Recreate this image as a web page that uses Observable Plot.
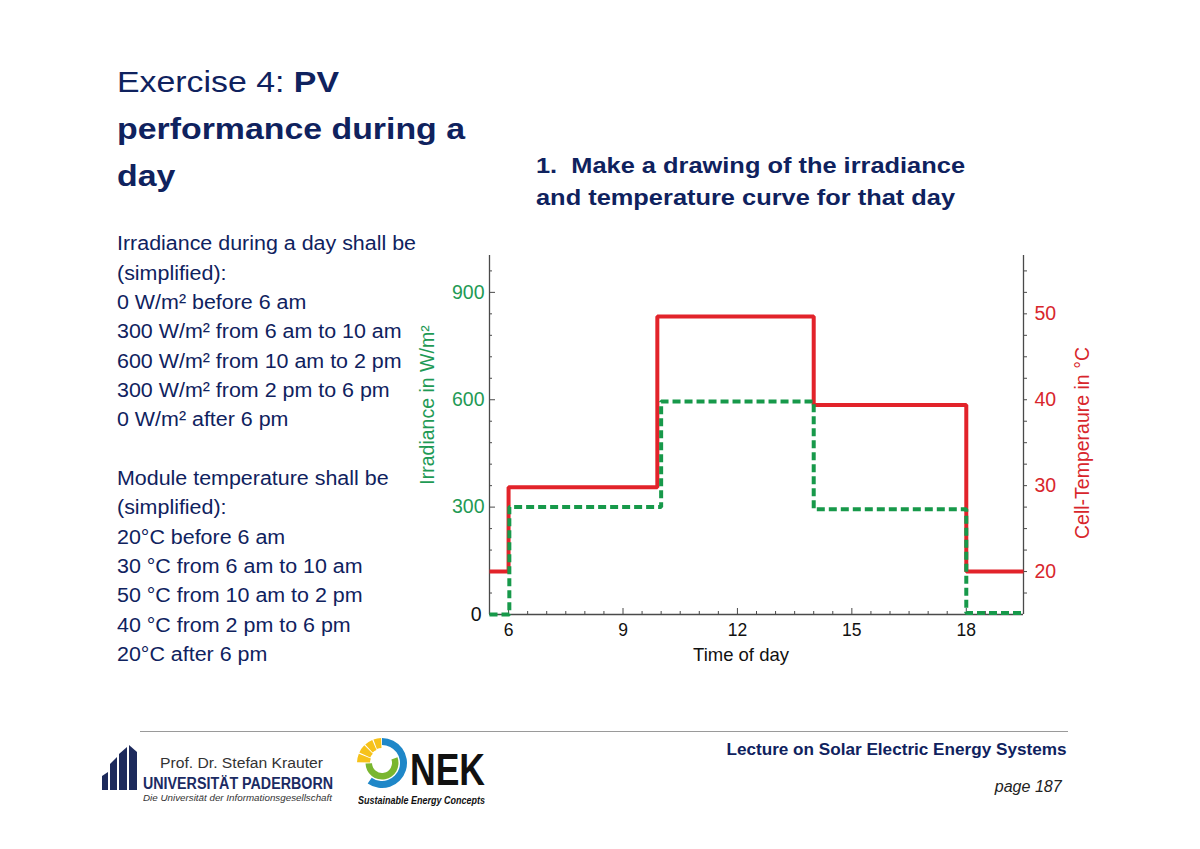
<!DOCTYPE html>
<html><head><meta charset="utf-8">
<script src="https://cdn.jsdelivr.net/npm/d3@7"></script>
<script src="https://cdn.jsdelivr.net/npm/@observablehq/plot@0.6"></script>
<style>
html,body{margin:0;padding:0;background:#fff;}
body{width:1200px;height:849px;position:relative;overflow:hidden;font-family:"Liberation Sans",Arial,Helvetica,sans-serif;}
.abs{position:absolute;white-space:nowrap;}
.navy{color:#0f225e;}
.rot{position:absolute;white-space:nowrap;transform:translate(-50%,-50%) rotate(-90deg);}
</style></head><body>

<div class="abs navy fit" data-w="348" style="left:117px;top:58.5px;font-size:29px;line-height:47px;">Exercise 4: <b>PV</b><br><b>performance during a</b><br><b>day</b></div>

<div class="abs navy fit" data-w="299" style="left:117px;top:229.3px;font-size:20px;line-height:29.35px;">Irradiance during a day shall be<br>(simplified):<br>0 W/m² before 6 am<br>300 W/m² from 6 am to 10 am<br>600 W/m² from 10 am to 2 pm<br>300 W/m² from 2 pm to 6 pm<br>0 W/m² after 6 pm<br>&nbsp;<br>Module temperature shall be<br>(simplified):<br>20°C before 6 am<br>30 °C from 6 am to 10 am<br>50 °C from 10 am to 2 pm<br>40 °C from 2 pm to 6 pm<br>20°C after 6 pm</div>

<div class="abs navy fit" data-w="429" style="left:536px;top:150px;font-size:21.5px;line-height:32px;font-weight:bold;">1.&nbsp;&nbsp;Make a drawing of the irradiance<br>and temperature curve for that day</div>

<div id="chart" style="position:absolute;left:400px;top:240px;"></div>

<div class="rot" style="left:427px;top:405px;font-size:19.5px;color:#1f9a55;">Irradiance in W/m²</div>
<div class="rot" style="left:1082px;top:443px;font-size:19.5px;color:#d8262c;">Cell-Temperaure in °C</div>
<div class="abs" style="left:741px;top:655px;transform:translate(-50%,-50%);font-size:18.5px;color:#111;">Time of day</div>

<div style="position:absolute;left:140px;top:731px;width:928px;height:1px;background:#9a9a9a;"></div>

<div class="abs navy fit" data-w="340" data-o="right center" style="right:134px;top:740px;font-size:16px;line-height:20px;font-weight:bold;">Lecture on Solar Electric Energy Systems</div>
<div class="abs fit" data-w="67" data-o="right center" style="right:138px;top:777px;font-size:16px;line-height:20px;font-style:italic;color:#222;">page 187</div>

<div class="abs fit" data-w="163" style="left:160px;top:755px;font-size:15.5px;line-height:16px;color:#333;">Prof. Dr. Stefan Krauter</div>
<div class="abs fit" data-w="190" style="left:143px;top:776px;font-size:16px;line-height:16px;font-weight:bold;color:#1b2b63;">UNIVERSITÄT PADERBORN</div>
<div class="abs fit" data-w="189" style="left:143px;top:793px;font-size:9.5px;line-height:10px;font-style:italic;color:#333;">Die Universität der Informationsgesellschaft</div>

<svg style="position:absolute;left:0;top:0;" width="1200" height="849" id="logos">
  <g fill="#1d2a5c">
    <polygon points="102,790 102,776 108,772 108,790"/>
    <polygon points="110,790 110,764 117,757 117,790"/>
    <polygon points="119,790 119,754 127,747 127,790"/>
    <polygon points="129,790 129,745 137,752 137,790"/>
  </g>
</svg>
<div class="abs fit" data-w="75" style="left:410px;top:750.5px;font-size:45px;line-height:38px;font-weight:bold;color:#111;">NEK</div>
<div class="abs fit" data-w="127" style="left:358px;top:795.5px;font-size:10px;line-height:10px;font-weight:bold;font-style:italic;color:#111;">Sustainable Energy Concepts</div>

<script>
// ---- data ----
const tempHours = [5.5, 6, 9.9, 14, 18, 19.5];
const tempValues = [20, 29.8, 49.7, 39.4, 20, 20];          // °C
const irrHours = [5.5, 6.02, 10, 14, 18, 19.5];
const irrValues = [0, 300, 595, 294, 4, 4];                 // W/m²
const xTickLabels = [6, 9, 12, 15, 18];
const xMinorTicks = [6.5, 7, 7.5, 8, 8.5, 9.5, 10, 10.5, 11, 11.5, 12.5, 13, 13.5, 14, 14.5, 15.5, 16, 16.5, 17, 17.5, 18.5, 19];
const irrTickLabels = [0, 300, 600, 900];
const irrMinorTicks = [60, 120, 180, 240, 360, 420, 480, 540, 660, 720, 780, 840, 960];
const tempTickLabels = [20, 30, 40, 50];
const tempMinorTicks = [17.5, 22.5, 25, 27.5, 32.5, 35, 37.5, 42.5, 45, 47.5, 52.5, 55];

// dual-axis mapping: temperature (°C) onto the irradiance scale
const toW = c => (c - 15) * 24;
const toC = w => Math.round((w / 24 + 15) * 10) / 10;

const tempData = tempHours.map((h, i) => ({h, c: tempValues[i]}));
const irrData = irrHours.map((h, i) => ({h, w: irrValues[i]}));

const red = "#e2232a", green = "#17994a", axisColor = "#4a4a4a";
const greenText = "#1f9a55", redText = "#d8262c";
const frameW = 534, frameH = 359;

const chart = Plot.plot({
  width: 710, height: 440,
  marginLeft: 89, marginRight: 87, marginTop: 15, marginBottom: 66,
  x: {domain: [5.5, 19.5], label: null},
  y: {domain: [0, 1003], label: null},
  style: {background: "transparent", fontFamily: "Liberation Sans, Arial, sans-serif", overflow: "visible"},
  marks: [
    Plot.ruleX([5.5], {stroke: axisColor, strokeWidth: 1.3}),
    Plot.ruleX([19.5], {stroke: axisColor, strokeWidth: 1.3}),
    Plot.ruleY([0], {stroke: axisColor, strokeWidth: 1.3}),
    Plot.tickY(irrMinorTicks, {y: d => d, insetRight: frameW - 3, stroke: axisColor}),
    Plot.tickY(irrTickLabels.filter(d => d > 0), {y: d => d, insetRight: frameW - 6, stroke: axisColor}),
    Plot.tickX(xMinorTicks, {x: d => d, insetTop: frameH - 3, stroke: axisColor}),
    Plot.tickX(xTickLabels, {x: d => d, insetTop: frameH - 6, stroke: axisColor}),
    Plot.axisY([...tempMinorTicks, ...tempTickLabels].map(toW), {
      anchor: "right", tickSize: 3, tickPadding: 8, stroke: axisColor, fill: redText, fontSize: 19.5, label: null,
      tickFormat: d => tempTickLabels.includes(toC(d)) ? String(toC(d)) : ""
    }),
    Plot.axisY(irrTickLabels.filter(d => d === 0), {anchor: "left", tickSize: 0, tickPadding: 8, fill: "#111", fontSize: 19.5, label: null}),
    Plot.axisY(irrTickLabels.filter(d => d > 0), {anchor: "left", tickSize: 0, tickPadding: 5, fill: greenText, fontSize: 19.5, label: null}),
    Plot.axisX(xTickLabels, {anchor: "bottom", tickSize: 0, tickPadding: 9, fill: "#111", fontSize: 17.5, label: null}),
    Plot.line(tempData, {x: "h", y: d => toW(d.c), curve: "step-after", stroke: red, strokeWidth: 4, strokeLinejoin: "miter", strokeLinecap: "butt"}),
    Plot.line(irrData, {x: "h", y: "w", curve: "step-after", stroke: green, strokeWidth: 4, strokeDasharray: "8,4", strokeLinejoin: "miter", strokeLinecap: "butt"})
  ]
});
document.getElementById("chart").appendChild(chart);

// NEK ring logo (decorative)
const logos = d3.select("#logos");
const arc = d3.arc();
const g = logos.append("g").attr("transform", "translate(382,763)");
g.append("path").attr("d", arc({innerRadius: 18, outerRadius: 25, startAngle: 0, endAngle: 215 * Math.PI / 180})).attr("fill", "#1f87c8");
g.append("path").attr("d", arc({innerRadius: 10, outerRadius: 16.5, startAngle: 70 * Math.PI / 180, endAngle: 268 * Math.PI / 180})).attr("fill", "#7ab62f");
[[272, 292], [295, 315], [318, 337], [340, 358]].forEach(([a, b], i) => {
  g.append("path").attr("d", arc({innerRadius: 12 + i, outerRadius: 25, startAngle: a * Math.PI / 180, endAngle: b * Math.PI / 180})).attr("fill", "#f6c21a");
});

// fit text blocks horizontally to the widths measured on the reference
document.querySelectorAll(".fit").forEach(el => {
  const w = el.getBoundingClientRect().width;
  el.style.transformOrigin = el.dataset.o || "left center";
  el.style.transform = `scaleX(${(+el.dataset.w / w).toFixed(4)})`;
});
</script>
</body></html>
